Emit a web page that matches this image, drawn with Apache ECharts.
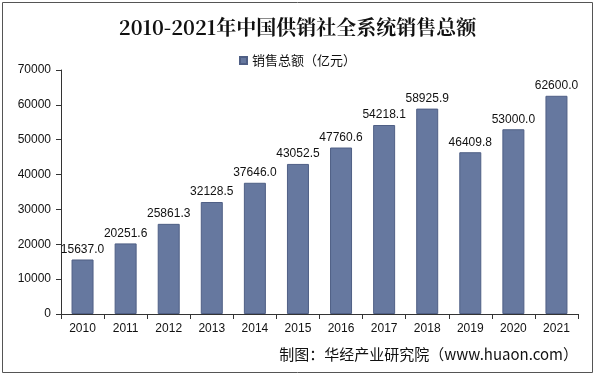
<!DOCTYPE html>
<html><head><meta charset="utf-8">
<script src="https://cdn.jsdelivr.net/npm/echarts@6/dist/echarts.min.js"></script>
<style>html,body{margin:0;padding:0;background:#fff}#c{width:595px;height:375px}</style>
</head><body><div id="c"></div>
<script>
const categories = ['2010','2011','2012','2013','2014','2015','2016','2017','2018','2019','2020','2021'];
const salesValues = [15637.0, 20251.6, 25861.3, 32128.5, 37646.0, 43052.5, 47760.6, 54218.1, 58925.9, 46409.8, 53000.0, 62600.0];
const seriesName = '销售总额（亿元）';
const titleText = '2010-2021年中国供销社全系统销售总额';
const sourceText = '制图：华经产业研究院（www.huaon.com）';

const chart = echarts.init(document.getElementById('c'), null, {renderer:'canvas'});
chart.setOption({
  animation:false,
  backgroundColor:'#fff',
  title:{text:titleText,left:'center',top:12,textStyle:{fontFamily:'"Noto Serif CJK SC","DejaVu Serif",serif',fontSize:20,fontWeight:'bold',color:'#111'}},
  legend:{data:[seriesName],top:49,left:'center',itemWidth:7,itemHeight:7,itemGap:4,icon:'rect',textStyle:{fontSize:13,color:'#111',fontFamily:'"Noto Sans CJK SC",sans-serif'}},
  grid:{left:61,right:17,top:70,bottom:61},
  graphic:[
    {type:'rect',shape:{x:2.5,y:2.5,width:590,height:370},style:{fill:'none',stroke:'#555',lineWidth:1},z:-1},
    {type:'text',right:17,top:347,style:{text:sourceText,fontSize:15,fill:'#111',fontFamily:'"Noto Sans CJK SC",sans-serif'}}
  ],
  xAxis:{type:'category',data:categories,
    axisLine:{lineStyle:{color:'#333'}},
    axisTick:{show:true,length:5,lineStyle:{color:'#333'}},
    axisLabel:{color:'#111',fontSize:12,margin:9,fontFamily:'Arial,"Liberation Sans",sans-serif'}},
  yAxis:{type:'value',min:0,max:70000,interval:10000,
    axisLine:{show:true,lineStyle:{color:'#333'}},
    axisTick:{show:true,length:5,lineStyle:{color:'#333'}},
    splitLine:{show:false},
    axisLabel:{color:'#111',fontSize:12,margin:10,fontFamily:'Arial,"Liberation Sans",sans-serif',formatter:v=>String(v)}},
  series:[{name:seriesName,type:'bar',data:salesValues,barWidth:22,
    itemStyle:{color:'#66789f',borderColor:'#4f5f85',borderWidth:1},
    label:{show:true,position:'top',distance:4,color:'#111',fontSize:12,fontFamily:'Arial,"Liberation Sans",sans-serif',formatter:p=>p.value.toFixed(1)}}]
});
</script></body></html>
